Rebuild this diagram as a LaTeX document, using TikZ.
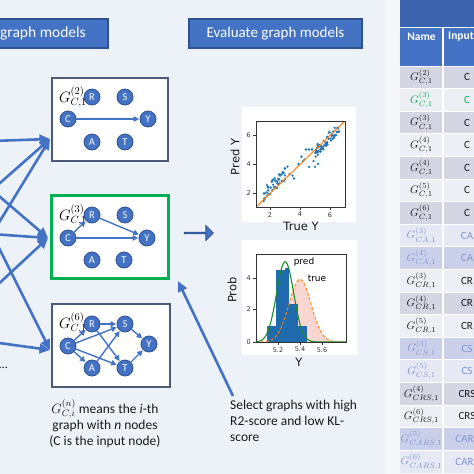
\RequirePackage{fix-cm}
\documentclass[tikz,border=0pt]{standalone}
\usepackage{fontspec}
\setmainfont{Carlito}
\newfontfamily\plotfont{DejaVu Sans}
\usetikzlibrary{arrows.meta,shapes.arrows}
\definecolor{bgouter}{HTML}{F5F7FB}
\definecolor{bgpanel}{HTML}{EDF2F9}
\definecolor{nodeblue}{HTML}{4472C4}
\definecolor{nodeborder}{HTML}{2F528F}
\definecolor{boxborder}{HTML}{4A5A78}
\definecolor{gboxgreen}{HTML}{00B050}
\definecolor{mplblue}{HTML}{1F77B4}
\definecolor{histblue}{HTML}{1F6BAE}
\definecolor{mplorange}{HTML}{FF7F0E}
\definecolor{mplgreen}{HTML}{1E8C2E}
\definecolor{pinkfill}{HTML}{F9D6D0}
\definecolor{bandblue}{HTML}{3C63AE}
\definecolor{rowdark}{HTML}{D4D7E3}
\definecolor{rowlight}{HTML}{EEEFF4}
\definecolor{fadedark}{HTML}{CAD0EA}
\definecolor{fadelight}{HTML}{E6E9F4}
\definecolor{gtext}{HTML}{1A1A1A}
\definecolor{ftext}{HTML}{7E95D2}
\definecolor{greentext}{HTML}{00B050}
\begin{document}
\begin{tikzpicture}[x=1pt,y=-1pt,
  hdr/.style={draw=nodeborder,fill=nodeblue,line width=1.2pt,inner sep=0pt,text=white,font=\fontsize{15}{18}\selectfont},
  gbox/.style={draw=boxborder,fill=white,line width=1.3pt,inner sep=0pt},
  gnode/.style={circle,fill=nodeblue,draw=nodeborder,line width=0.8pt,minimum size=16pt,inner sep=0pt,text=white,font=\fontsize{10.5}{12}\selectfont},
  glabel/.style={inner sep=0pt,font=\fontsize{15}{18}\selectfont},
  gedge/.style={-{Triangle[length=5.5pt,width=5.5pt]},draw=nodeblue,line width=1.4pt,shorten >=0.5pt},
  bigarrow/.style={-{Triangle[length=10.5pt,width=9.5pt]},draw=nodeblue,line width=2.6pt},
  bodytext/.style={inner sep=0pt,font=\fontsize{13.5}{16}\selectfont,text=black!90},
  ticklab/.style={inner sep=0pt,font=\plotfont\fontsize{6.5}{7}\selectfont,text=black!80},
  axlab/.style={inner sep=0pt,font=\plotfont\fontsize{11.5}{13}\selectfont,text=black!90},
  cell/.style={inner sep=0pt,font=\fontsize{11}{12}\selectfont}
]
\useasboundingbox (0,0) rectangle (474,474);
\clip (0,0) rectangle (474,474);
% backgrounds
\fill[bgouter] (0,0) rectangle (474,474);
\fill[bgpanel] (-5,-5) rectangle (386,480);

% header boxes
\node[hdr,minimum width=112pt,minimum height=29pt] (h1) at (52,33.5) {};
\node[anchor=east,inner sep=0pt,text=white,font=\fontsize{15.5}{18}\selectfont] (h1t) at (86,33) {graph models};
\node[hdr,minimum width=173pt,minimum height=29pt] (h2) at (275.5,33.5) {Evaluate graph models};

% graph boxes
\node[gbox,minimum width=116pt,minimum height=83pt] (b1) at (110,119.5) {};
\node[gbox,draw=gboxgreen,line width=3pt,minimum width=117pt,minimum height=83pt] (b2) at (109.5,236.5) {};
\node[gbox,minimum width=118pt,minimum height=83pt] (b3) at (111,345.5) {};

% box 1
\node[gnode] (b1R) at (92,97) {R};
\node[gnode] (b1S) at (125,97) {S};
\node[gnode] (b1C) at (68,119) {C};
\node[gnode] (b1Y) at (148,119) {Y};
\node[gnode] (b1A) at (92,142) {A};
\node[gnode] (b1T) at (125,142) {T};
\node[glabel] (b1L) at (73,97) {$G^{(2)}_{C,1}$};
\draw[gedge] (b1C) -- (b1Y);

% box 2
\node[gnode] (b2R) at (92,215) {R};
\node[gnode] (b2S) at (125,215) {S};
\node[gnode] (b2C) at (68,238) {C};
\node[gnode] (b2Y) at (147,238) {Y};
\node[gnode] (b2A) at (92,260) {A};
\node[gnode] (b2T) at (124,260) {T};
\node[glabel] (b2L) at (73,215) {$G^{(3)}_{C,1}$};
\draw[gedge] (b2C) -- (b2R);
\draw[gedge] (b2R) -- (b2Y);
\draw[gedge] (b2C) -- (b2Y);

% box 3
\node[gnode] (b3R) at (92,324) {R};
\node[gnode] (b3S) at (125,324) {S};
\node[gnode] (b3C) at (68,346) {C};
\node[gnode] (b3Y) at (149,344) {Y};
\node[gnode] (b3A) at (92,368) {A};
\node[gnode] (b3T) at (125,368) {T};
\node[glabel] (b3L) at (73,323) {$G^{(6)}_{C,1}$};
\draw[gedge] (b3C) -- (b3R);
\draw[gedge] (b3C) -- (b3S);
\draw[gedge] (b3C) -- (b3A);
\draw[gedge] (b3C) -- (b3T);
\draw[gedge] (b3R) -- (b3S);
\draw[gedge] (b3R) -- (b3T);
\draw[gedge] (b3A) -- (b3S);
\draw[gedge] (b3S) -- (b3Y);
\draw[gedge] (b3T) -- (b3Y);

% incoming arrows from the left
\coordinate (s1) at (-8,141);
\coordinate (s2) at (-8,190);
\coordinate (s3) at (-8,234);
\coordinate (s4) at (-8,290);
\coordinate (s5) at (-8,342);
\coordinate (t1) at (50,139);
\coordinate (t2) at (48,238);
\coordinate (t3) at (50,350);
\draw[bigarrow] (s1) -- (t1);
\draw[bigarrow] (s2) -- (t1);
\draw[bigarrow] (s3) -- (t1);
\draw[bigarrow] (s2) -- (t2);
\draw[bigarrow] (s3) -- (t2);
\draw[bigarrow] (s4) -- (t2);
\draw[bigarrow] (s3) -- (t3);
\draw[bigarrow] (s5) -- (t3);
\node[anchor=east,inner sep=0pt,font=\fontsize{12}{14}\selectfont] (dots) at (8,368) {...};

% note below
\node[bodytext,anchor=north,align=center] (note) at (105,399) {$G^{(n)}_{C,i}$ means the \textit{i}-th\\graph with \textit{n} nodes\\(C is the input node)};

% block arrow
\node[single arrow,fill=nodeblue,draw=nodeborder,line width=0.8pt,minimum height=29pt,minimum width=15pt,single arrow head extend=3.5pt,inner sep=0pt] (blk) at (198.5,233) {};

% scatter plot
\fill[white] (242,107) rectangle (356,222);
\begin{scope}
\clip (256,121) rectangle (345,207);
\pgfmathsetseed{42}
\foreach \k in {1,...,45}{
  \pgfmathsetmacro\px{2.4+0.9*rand}
  \pgfmathsetmacro\py{\px+0.3+0.45*rand}
  \fill[mplblue] ({240+15*\px},{222-14.5*\py}) circle (1.3pt);
}
\foreach \k in {1,...,60}{
  \pgfmathsetmacro\px{5.8+0.8*rand}
  \pgfmathsetmacro\py{\px-0.15+0.4*rand}
  \fill[mplblue] ({240+15*\px},{222-14.5*\py}) circle (1.3pt);
}
\foreach \px/\py in {3.6/3.0,3.9/4.0,4.3/4.3,4.4/5.0,4.6/5.0,4.8/5.0,4.2/4.2,4.6/3.8,5.0/3.8,5.2/4.0,3.0/3.7,3.3/3.3,3.5/3.2,4.1/4.5,4.9/4.2,5.1/4.9}{
  \fill[mplblue] ({240+15*\px},{222-14.5*\py}) circle (1.3pt);
}
\draw[mplorange,line width=1pt] (256,207) -- (345,121);
\end{scope}
\draw[black!80,line width=0.6pt] (256,121) rectangle (345,207);
\foreach \v/\yy in {6/135,4/164,2/193}{
  \draw[black!80,line width=0.5pt] (256,\yy) -- (253,\yy);
  \node[ticklab,anchor=east] (sy\v) at (251,\yy) {\v};
}
\foreach \v/\xx in {2/270,4/300,6/330}{
  \draw[black!80,line width=0.5pt] (\xx,207) -- (\xx,210);
  \node[ticklab,anchor=north] (sx\v) at (\xx,212) {\v};
}
\node[axlab,rotate=90] (predy) at (235,157) {Pred Y};
\node[axlab] (truey) at (301,226) {True Y};

% histogram plot
\fill[white] (242,240) rectangle (357,355);
\begin{scope}
\clip (256,254) rectangle (346,342);
\fill[pinkfill] plot[domain=5.0:5.82,samples=80] ({256+110*(\x-5)},{342-15.7*3.989*exp(-((\x-5.4)*(\x-5.4))/0.02)}) -- (346,342) -- (256,342) -- cycle;
\foreach \a/\b/\h in {5.10/5.18/1.0,5.18/5.26/4.6,5.26/5.30/4.7,5.30/5.38/2.4,5.38/5.46/1.0}{
  \fill[histblue] ({256+110*(\a-5)},342) rectangle ({256+110*(\b-5)},{342-15.7*\h});
}
\draw[mplorange,line width=0.9pt,dash pattern=on 3pt off 2pt] plot[domain=5.0:5.82,samples=80] ({256+110*(\x-5)},{342-15.7*3.989*exp(-((\x-5.4)*(\x-5.4))/0.02)});
\draw[mplgreen,line width=1.1pt] plot[domain=5.0:5.82,samples=100] ({256+110*(\x-5)},{342-15.7*5.115*exp(-((\x-5.265)*(\x-5.265))/0.012168)});
\end{scope}
\draw[black!80,line width=0.6pt] (256,254) rectangle (346,342);
\foreach \v/\yy in {4/278,2/309,0/342}{
  \draw[black!80,line width=0.5pt] (256,\yy) -- (253,\yy);
  \node[ticklab,anchor=east] (hy\v) at (251,\yy) {\v};
}
\foreach \v/\xx in {5.2/278,5.4/300,5.6/322}{
  \draw[black!80,line width=0.5pt] (\xx,342) -- (\xx,345);
  \node[ticklab,anchor=north] (hx\xx) at (\xx,347) {\v};
}
\node[inner sep=0pt,font=\plotfont\fontsize{9}{10}\selectfont] (predl) at (304,262) {pred};
\node[inner sep=0pt,font=\plotfont\fontsize{9}{10}\selectfont] (truel) at (317,278) {true};
\node[axlab,rotate=90] (prob) at (232,290) {Prob};
\node[axlab] (yl) at (299,362) {Y};

% select text and arrow
\node[bodytext,anchor=north west,align=left] (sel) at (230,400) {Select graphs with high\\R2-score and low KL-\\score};
\coordinate (selfrom) at (233,396);
\coordinate (selto) at (178,281);
\draw[bigarrow] (selfrom) -- (selto);

% table
\fill[bandblue] (400,0) rectangle (490,27);
\fill[nodeblue] (400,27) rectangle (490,66);
\draw[white,line width=1pt] (400,27) -- (490,27);
\node[inner sep=0pt,text=white,font=\bfseries\fontsize{11.5}{13}\selectfont] (hname) at (421.5,37) {Name};
\node[inner sep=0pt,anchor=west,text=white,font=\bfseries\fontsize{11.5}{13}\selectfont] (hinput) at (448,37) {Input};
\foreach \i/\gs/\gb/\inp/\rf/\tc in {
  0/2/C/C/rowdark/gtext,
  1/3/C/C/rowlight/greentext,
  2/3/C/C/rowdark/gtext,
  3/4/C/C/rowlight/gtext,
  4/4/C/C/rowdark/gtext,
  5/5/C/C/rowlight/gtext,
  6/6/C/C/rowdark/gtext,
  7/3/CA/CA/fadelight/ftext,
  8/4/CA/CA/fadedark/ftext,
  9/3/CR/CR/rowlight/gtext,
  10/4/CR/CR/rowdark/gtext,
  11/5/CR/CR/rowlight/gtext,
  12/3/CS/CS/fadedark/ftext,
  13/5/CS/CS/fadelight/ftext,
  14/4/CRS/CRS/rowdark/gtext,
  15/6/CRS/CRS/rowlight/gtext,
  16/5/CARS/CARS/fadedark/ftext,
  17/6/CARS/CARS/fadelight/ftext}{
  \fill[\rf] (400,{66+22.6*\i}) rectangle (490,{66+22.6*(\i+1)});
  \draw[white,line width=0.8pt] (400,{66+22.6*\i}) -- (490,{66+22.6*\i});
  \node[cell,text=\tc] (rn\i) at (421.5,{77.3+22.6*\i}) {$G^{(\gs)}_{\gb,1}$};
  \node[cell,text=\tc] (ri\i) at (467,{77.3+22.6*\i}) {\inp};
}
\draw[white,line width=1.5pt] (443,27) -- (443,474);
\end{tikzpicture}
\end{document}
